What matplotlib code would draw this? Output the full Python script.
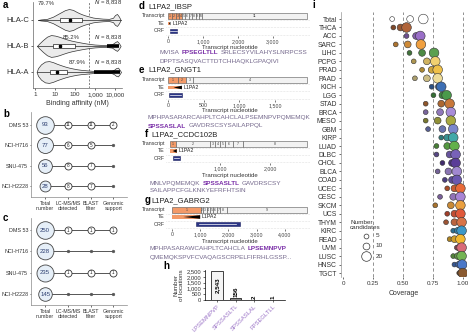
import numpy as np
import matplotlib
matplotlib.use('Agg')
import matplotlib.pyplot as plt
from matplotlib.patches import Rectangle, Polygon
import matplotlib.colors as mcolors

plt.rcParams['font.family'] = ['Liberation Sans', 'DejaVu Sans']
plt.rcParams['axes.linewidth'] = 0.5
plt.rcParams['xtick.major.width'] = 0.5
plt.rcParams['ytick.major.width'] = 0.5

# ---------------- data ----------------
# panel a: binding affinity violins (outline, log10 nM)
hla_labels = ['HLA-A', 'HLA-B', 'HLA-C']
hla_binder_pct = ['87.9%', '85.2%', '79.7%']
hla_n_text = '$N$ = 8,838'
binder_threshold = 500
vio_a_log = [0.08, 0.15, 0.3, 0.5, 0.7, 0.9, 1.1, 1.3, 1.5, 1.7, 1.9, 2.1, 2.3, 2.6, 2.9, 3.2, 3.5, 3.8, 3.95, 4.05, 4.15, 4.25, 4.3]
vio_a_w = [0, 0.35, 0.7, 0.95, 1.0, 0.9, 0.75, 0.62, 0.5, 0.4, 0.32, 0.25, 0.2, 0.15, 0.1, 0.08, 0.07, 0.08, 0.2, 0.35, 0.4, 0.15, 0]
vio_b_log = [0.1, 0.2, 0.4, 0.6, 0.8, 1.0, 1.2, 1.4, 1.6, 1.8, 2.0, 2.2, 2.4, 2.6, 2.8, 3.0, 3.3, 3.6, 3.85, 4.0, 4.1, 4.2, 4.28]
vio_b_w = [0, 0.2, 0.55, 0.85, 1.0, 0.95, 0.85, 0.72, 0.6, 0.5, 0.42, 0.35, 0.28, 0.22, 0.17, 0.13, 0.1, 0.1, 0.15, 0.35, 0.45, 0.25, 0]
vio_c_log = [0.15, 0.3, 0.6, 0.9, 1.1, 1.3, 1.5, 1.7, 1.9, 2.1, 2.3, 2.5, 2.7, 2.9, 3.1, 3.4, 3.7, 3.9, 4.0, 4.1, 4.2, 4.28]
vio_c_w = [0, 0.05, 0.1, 0.3, 0.5, 0.7, 0.9, 1.0, 0.92, 0.72, 0.55, 0.42, 0.32, 0.22, 0.17, 0.12, 0.1, 0.2, 0.45, 0.55, 0.3, 0]
box_q1 = [5.6, 8.0, 18.0]
box_median = [12.5, 18.0, 55.0]
box_q3 = [40.0, 100.0, 220.0]
whisker_low = [1.2, 1.25, 1.4]
whisker_high = [900.0, 4000.0, 19000.0]
outlier_high = [18000.0, 16000.0, 19000.0]

# panels b, c
cell_lines = ['DMS 53', 'NCI-H716', 'SNU-475', 'NCI-H2228']
stages = ['Total\nnumber', 'LC-MS/MS\ndetected', 'BLAST\nfilter', 'Genomic\nsupport']
b_total = [93, 77, 56, 28]
b_lcms = [11, 6, 8, 8]
b_blast = [11, 5, 7, 7]
b_genomic = [2, 0, 0, 0]
c_total = [250, 228, 235, 145]
c_lcms = [1, 0, 1, 0]
c_blast = [1, 0, 1, 0]
c_genomic = [1, 0, 1, 0]

# panels d-g: transcripts
tx_names = ['L1PA2_IBSP', 'L1PA2_GNGT1', 'L1PA2_CCDC102B', 'L1PA2_GABRG2']
tx_exons = [
    [0, 115, 220, 315, 410, 476, 600, 695, 790, 886, 980, 3970],
    [0, 141, 253, 352, 1950],
    [0, 120, 800, 900, 1000, 1100, 1250, 1450, 2740],
    [0, 1020, 1110, 1230, 1350, 1470, 1590, 1700, 1940, 4800],
]
tx_te_exons = [4, 2, 1, 1]
te_spans = [(0, 70), (0, 195), (0, 135), (0, 1000)]
orf_spans = [(50, 270), (20, 200), (60, 190), (850, 2410)]
tx_ticks = [[0, 1000, 2000, 3000], [0, 500, 1000, 1500], [1000, 2000], [0, 1000, 2000, 3000, 4000]]
tx_seq_line1 = [
    [('MVISA', 0), ('FPSEGLTLL', 1), ('SRLECSYVILAHYSLNRPCSS', 0)],
    [('MPHPASARARCAHPLTCAHCLALPSEMNPVPQMEMQK', 0)],
    [('MNLVPQMEMQK', 0), ('SPSSASLTL', 1), ('GAVDRSCSY', 0)],
    [('MPHPASARAWCAHPLTCAHCLA', 0), ('LPSEMNPVP', 1)],
]
tx_seq_line2 = [
    [('DPPTSASQVACTTDTCHHAQKLGPAQIVI', 0)],
    [('SPSSASLAL', 1), ('GAVDRSCSYSAILAPPQL', 0)],
    [('SAILAPPCFGLKNKYEFRFHTSIN', 0)],
    [('QMEMQKSPVFCVAQAGSCRPELFIFRHLGSSP...', 0)],
]

# panel h
peptides = ['LPSEMNPVP', 'SPSSASLTL', 'SPSSASLAL', 'FPSEGLTLL']
n_locations = [2543, 156, 2, 1]
n_location_labels = ['2,543', '156', '2', '1']

# panel i
cancers = ['Total', 'THCA', 'ACC', 'SARC', 'LIHC', 'PCPG', 'PRAD', 'PAAD', 'KICH', 'LGG',
           'STAD', 'BRCA', 'MESO', 'GBM', 'KIRP', 'LUAD', 'DLBC', 'CHOL', 'BLCA', 'COAD',
           'UCEC', 'CESC', 'SKCM', 'UCS', 'THYM', 'KIRC', 'READ', 'UVM', 'LUSC', 'HNSC', 'TGCT']
cov_5 = [0.41, 0.42, 0.53, 0.44, 0.555, 0.59, 0.66, 0.60, 0.74, 0.755, 0.69, 0.69, 0.69, 0.71,
         0.82, 0.78, 0.78, 0.83, 0.79, 0.85, 0.87, 0.81, 0.77, 0.87, 0.86, 0.92, 0.89, 0.95, 0.92, 0.93, 0.97]
cov_10 = [0.56, 0.48, 0.61, 0.54, 0.66, 0.70, 0.74, 0.70, 0.80, 0.83, 0.82, 0.81, 0.79, 0.83,
          0.87, 0.87, 0.89, 0.91, 0.88, 0.91, 0.93, 0.92, 0.90, 0.93, 0.93, 0.96, 0.93, 0.97, 0.96, 0.97, 0.99]
cov_20 = [0.67, 0.53, 0.645, 0.65, 0.76, 0.77, 0.79, 0.79, 0.82, 0.865, 0.89, 0.90, 0.90, 0.92,
          0.92, 0.93, 0.94, 0.94, 0.95, 0.95, 0.98, 0.98, 0.98, 0.98, 0.99, 0.99, 0.98, 0.99, 0.99, 0.995, 1.0]
n_candidates = [5, 10, 20]
cancer_colors = ['#ffffff', '#b0643a', '#9a6fc8', '#f0a040', '#5aa050', '#f2d070', '#f0c048', '#eedc98',
                 '#3c6eb4', '#4a9a4a', '#c8783a', '#a88cd8', '#a8a840', '#7a86cc', '#40a8a8', '#62b04a',
                 '#7862b8', '#5a3c98', '#a088d0', '#6a58b0', '#e86a38', '#a884d4', '#eaa040', '#e0583a',
                 '#d87448', '#3c98c8', '#f2b830', '#d86a78', '#74b454', '#4a78c8', '#8a5a30']

# ---------------- figure ----------------
W, H = 474, 333
fig = plt.figure(figsize=(4.74, 3.33), dpi=100)


def axp(l, t, r, b):
    return fig.add_axes([l / W, 1 - b / H, (r - l) / W, (b - t) / H])


def ftext(x, y, s, **kw):
    kw.setdefault('va', 'center')
    return fig.text(x / W, 1 - y / H, s, **kw)


def r2s(r_px):
    return (2 * r_px * 0.72) ** 2


def shade(c, f):
    rgb = mcolors.to_rgb(c)
    return tuple(min(1, v * f) for v in rgb)


# ---- panel a ----
ax = axp(33, 2, 122, 88)
vios = [(vio_a_log, vio_a_w), (vio_b_log, vio_b_w), (vio_c_log, vio_c_w)]
for i, (lg, w) in enumerate(vios):
    xs = 10 ** np.array(lg)
    ww = np.array(w) * 0.42
    ax.fill_between(xs, i - ww, i + ww, facecolor='#ebebeb', edgecolor='#333333', lw=0.5, zorder=1)
    ax.plot([whisker_low[i], whisker_high[i]], [i, i], color='#222222', lw=0.5, zorder=2)
    if outlier_high[i] > whisker_high[i] * 1.1:
        ax.plot([whisker_high[i], outlier_high[i]], [i, i], color='black', lw=2.6,
                solid_capstyle='butt', zorder=2)
    ax.add_patch(Rectangle((box_q1[i], i - 0.075), box_q3[i] - box_q1[i], 0.15,
                           facecolor='white', edgecolor='#222222', lw=0.5, zorder=3))
    ax.plot([box_median[i]], [i], marker='s', ms=1.6, color='black', zorder=4)
ax.axvline(binder_threshold, color='#555555', lw=0.5, dashes=(3, 2), zorder=0)
pct_x = [126, 67, 3.5]
pct_y = [0.35, 1.31, 2.65]
for i in range(3):
    ax.text(pct_x[i], pct_y[i], hla_binder_pct[i], fontsize=4.3, ha='center', va='center', color='#333333')
    ax.text(4500, pct_y[i], hla_n_text, fontsize=4.3, ha='center', va='center', color='#333333')
ax.set_xscale('log')
ax.set_xlim(10 ** -0.1, 10 ** 4.35)
ax.set_ylim(-0.615, 2.69)
ax.set_xticks([1, 10, 100, 1000, 10000])
ax.set_xticklabels(['1', '10', '100', '1,000', '10,000'])
ax.minorticks_off()
ax.set_yticks([0, 1, 2])
ax.set_yticklabels(hla_labels)
ax.tick_params(axis='x', labelsize=4.5, length=1.5, pad=1.5, colors='#333333')
ax.tick_params(axis='y', labelsize=5.5, length=1.5, pad=1.5, colors='#333333')
ax.set_xlabel('Binding affinity (nM)', fontsize=5, labelpad=2, color='#333333')
for s in ['top', 'right']:
    ax.spines[s].set_visible(False)
for s in ['left', 'bottom']:
    ax.spines[s].set_color('#666666')


# ---- panels b, c ----
def flow_panel(top, bottom, row_px, total, lcms, blast, genomic):
    ax = axp(31, top, 127, bottom)
    spacing = (row_px[-1] - row_px[0]) / 3.0
    y0 = (top - row_px[0]) / spacing
    y1 = 3 + (bottom - row_px[-1]) / spacing
    ax.set_xlim(-0.62, 3.6)
    ax.set_ylim(y1, y0)
    mx = max(total)
    for r in range(4):
        ax.plot([0, 3], [r, r], color='#555555', lw=0.7, zorder=1)
        rad = 4 + 4.8 * total[r] / mx
        ax.scatter([0], [r], s=r2s(rad), facecolor='#e6eff8', edgecolor='#444444', lw=0.6, zorder=2)
        ax.text(0, r, str(total[r]), fontsize=4.3, ha='center', va='center', color='#2c3e70', zorder=3)
        for j, v in enumerate([lcms[r], blast[r], genomic[r]]):
            if v > 0:
                ax.scatter([j + 1], [r], s=r2s(3.5), facecolor='white', edgecolor='#333333', lw=0.6, zorder=2)
                ax.text(j + 1, r, str(v), fontsize=3.3, ha='center', va='center', color='#222222', zorder=3)
            else:
                ax.scatter([j + 1], [r], s=r2s(1.4), facecolor='#555555', edgecolor='#555555', lw=0.3, zorder=2)
    ax.set_yticks(range(4))
    ax.set_yticklabels(cell_lines)
    ax.set_xticks(range(4))
    ax.set_xticklabels(stages, linespacing=1.0)
    ax.tick_params(axis='x', labelsize=3.8, length=1.2, pad=1.5, colors='#333333')
    ax.tick_params(axis='y', labelsize=3.9, length=1.0, pad=1.0, colors='#333333')
    for s in ['top', 'right']:
        ax.spines[s].set_visible(False)
    for s in ['left', 'bottom']:
        ax.spines[s].set_color('#888888')
    return ax


flow_panel(112, 197, [125, 146, 166, 186], b_total, b_lcms, b_blast, b_genomic)
flow_panel(218, 305, [230, 252, 273, 294], c_total, c_lcms, c_blast, c_genomic)

# ---- panels d-g ----
renderer = fig.canvas.get_renderer()
SEQ_N = '#74688c'
SEQ_H = '#7a2fa8'


def seq_line(x, y, parts):
    xx = x
    for s, hl in parts:
        t = ftext(xx, y, s, fontsize=4.6, ha='left', color=SEQ_H if hl else SEQ_N,
                  fontweight='bold' if hl else 'normal')
        bb = t.get_window_extent(renderer=renderer)
        xx += bb.width + 2.2


tx_rows = [(16, 31), (80, 95), (144, 158), (210, 224)]
tx_title_xy = [(148, 7), (148, 70), (151, 135), (151, 201)]
tx_letter_xy = [(139, 6), (139, 70), (145, 134), (145, 200)]
tx_tick_origin = [(168, 35.0), (168, 71.3), (170, 50.0), (172, 28.2)]
tx_seq_xy = [(160, 53, 61), (148, 118, 126), (150, 183, 191), (150, 249, 257)]
tx_xlabel_y = [47, 111, 176, 242]
tx_letters = ['d', 'e', 'f', 'g']

for k in range(4):
    yt, yo = tx_rows[k]
    top, bot = yt - 5, yo + 5
    ax = axp(166, top, 310, bot)
    sp = (yo - yt) / 2.0
    ax.set_ylim(-(bot - yo) / sp, 2 + (yt - top) / sp)
    x0px, ppk = tx_tick_origin[k]
    ax.set_xlim((166 - x0px) / ppk * 1000, (310 - x0px) / ppk * 1000)
    for yl in [1.5, 0.5, -0.5]:
        ax.axhline(yl, color='#c8c8c8', lw=0.4, ls=':', zorder=0)
    ex = tx_exons[k]
    th = 6.0 / sp / 2
    for e in range(len(ex) - 1):
        fc = '#f39a68' if e < tx_te_exons[k] else '#f2f2f2'
        ax.add_patch(Rectangle((ex[e], 2 - th), ex[e + 1] - ex[e], 2 * th, facecolor=fc,
                               edgecolor='#555555', lw=0.4, zorder=2))
        ax.text((ex[e] + ex[e + 1]) / 2, 2, str(e + 1), fontsize=2.6, ha='center', va='center',
                color='#444444', zorder=3)
    # TE
    te0, te1 = te_spans[k]
    teh = 3.6 / sp / 2
    ax.add_patch(Rectangle((te0, 1 - teh), te1 - te0, 2 * teh, facecolor='#f39a68',
                           edgecolor='none', zorder=2))
    wl = (te1 - te0) * 0.6
    ax.add_patch(Polygon([(te1 - wl, 1), (te1, 1 + teh), (te1, 1 - teh)], closed=True,
                         facecolor='black', edgecolor='none', zorder=3))
    ax.text(te1 + (ax.get_xlim()[1] - ax.get_xlim()[0]) * 0.012, 1, 'L1PA2', fontsize=3.8,
            ha='left', va='center', color='#222222')
    # ORF
    o0, o1 = orf_spans[k]
    oh = 4.0 / sp / 2
    ax.add_patch(Rectangle((o0, -oh), o1 - o0, 2 * oh, facecolor='#2b3585', edgecolor='#1c2260',
                           lw=0.4, zorder=2))
    pad = (o1 - o0) * 0.08
    ax.plot([o0 + pad, o1 - pad], [0, 0], color='white', lw=0.5, zorder=3)
    ax.set_yticks([])
    ax.set_xticks(tx_ticks[k])
    ax.set_xticklabels([f'{t:,}' for t in tx_ticks[k]])
    ax.tick_params(axis='x', labelsize=3.8, length=1.5, pad=1.0, colors='#444444')
    for s in ax.spines.values():
        s.set_visible(False)
    # text around
    ftext(*tx_letter_xy[k], tx_letters[k], fontsize=7, fontweight='bold')
    ftext(*tx_title_xy[k], tx_names[k], fontsize=5.5, ha='left', color='#222222')
    for lbl, yy in zip(['Transcript', 'TE', 'ORF'], [yt, (yt + yo) / 2, yo]):
        ftext(165, yy, lbl, fontsize=3.8, ha='right', color='#333333')
    ftext(230, tx_xlabel_y[k], 'Transcript nucleotide', fontsize=4.3, ha='center', color='#333333')
    sx, sy1, sy2 = tx_seq_xy[k]
    seq_line(sx, sy1, tx_seq_line1[k])
    seq_line(sx, sy2, tx_seq_line2[k])

# ---- panel h ----
ax = axp(205, 270, 285, 300)
xpos = np.arange(len(peptides))
bar_fc = ['#f4f4f4', '#8a8a8a', '#8a8a8a', '#8a8a8a']
ax.bar(xpos, n_locations, width=0.6, color=bar_fc, edgecolor='#222222', lw=0.6)
for i, v in enumerate(n_locations):
    if v > 1000:
        ax.text(i, v / 2, n_location_labels[i], rotation=90, fontsize=4.5, fontweight='bold',
                ha='center', va='center')
    else:
        ax.text(i, v + 120, n_location_labels[i], rotation=90, fontsize=4.5, fontweight='bold',
                ha='center', va='bottom')
ax.set_xlim(-0.64, 3.64)
ax.set_ylim(0, 2600)
ax.set_yticks([0, 500, 1000, 1500, 2000, 2500])
ax.set_yticklabels(['0', '500', '1,000', '1,500', '2,000', '2,500'])
ax.set_xticks(xpos)
ax.set_xticklabels(peptides, rotation=45, ha='right', rotation_mode='anchor')
ax.tick_params(axis='both', labelsize=4.2, length=1.5, pad=1.2, colors='#333333')
for lbl in ax.get_xticklabels():
    lbl.set_color('#9a72c6')
ax.set_ylabel('Number\nof locations', fontsize=4.5, labelpad=2, linespacing=1.0, color='#333333')
for s in ['top', 'right']:
    ax.spines[s].set_visible(False)
ftext(163, 266, 'h', fontsize=7, fontweight='bold')

# ---- panel i ----
ax = axp(341, 12, 467, 277)
ax.set_xlim(-0.017, 1.035)
ax.set_ylim(30.47, -0.83)
for xv in [0.25, 0.5, 0.75, 1.0]:
    ax.axvline(xv, color='#808080', lw=0.6, dashes=(4, 3), zorder=0)
ypos = np.arange(len(cancers))
for covs, n, f in zip([cov_5, cov_10, cov_20], n_candidates, [0.72, 0.86, 1.0]):
    cols = [('#ffffff' if c == '#ffffff' else shade(c, f)) for c in cancer_colors]
    ax.scatter(covs, ypos, s=[2.4 * n] * len(cancers), c=cols, edgecolors='#333333',
               linewidths=0.4, zorder=3 + f)
# legend
ax.text(0.06, 24.3, 'Number\ncandidates', fontsize=4.6, ha='left', va='center', linespacing=1.0,
        color='#333333')
for n, yy in zip(n_candidates, [25.6, 26.8, 28.0]):
    ax.scatter([0.19], [yy], s=2.4 * n, facecolor='white', edgecolor='#333333', lw=0.5)
    ax.text(0.27, yy, str(n), fontsize=4.6, ha='left', va='center', color='#333333')
ax.set_yticks(ypos)
ax.set_yticklabels(cancers)
ax.set_xticks([0, 0.25, 0.5, 0.75, 1.0])
ax.set_xticklabels(['0', '0.25', '0.50', '0.75', '1.00'])
ax.tick_params(axis='y', labelsize=4.9, length=1.5, pad=1.5, colors='#333333')
ax.tick_params(axis='x', labelsize=4.5, length=1.5, pad=1.5, colors='#333333')
ax.set_xlabel('Coverage', fontsize=5, labelpad=3, color='#333333')
for s in ['top', 'right', 'bottom']:
    ax.spines[s].set_visible(False)
ax.spines['left'].set_color('#999999')
ftext(312, 5, 'i', fontsize=7, fontweight='bold')

# letters
ftext(3, 5, 'a', fontsize=7, fontweight='bold')
ftext(3, 114, 'b', fontsize=7, fontweight='bold')
ftext(3, 218, 'c', fontsize=7, fontweight='bold')

fig.savefig('out.png', dpi=100)
